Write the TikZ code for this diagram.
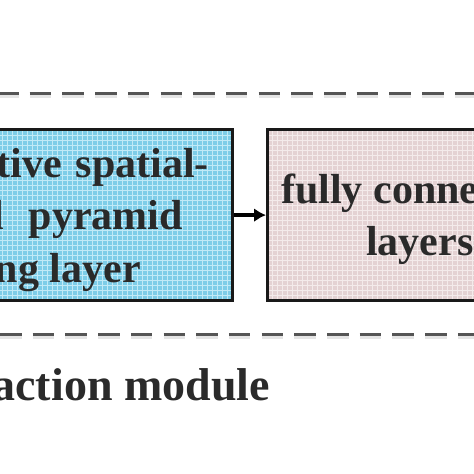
\documentclass[tikz,border=0pt]{standalone}
\usepackage{fontspec}
\setmainfont{Liberation Serif}
\usetikzlibrary{shadows,arrows.meta}
\definecolor{inkgray}{HTML}{2A2A2A}
\definecolor{dashgray}{HTML}{555555}
\definecolor{sppfill}{HTML}{7ECDE8}
\definecolor{sppgrid}{HTML}{C2EAF7}
\definecolor{fcfill}{HTML}{E4D2D3}
\definecolor{fcgrid}{HTML}{F4EBEB}
\tikzset{
  layerbox/.style={draw=black!90, line width=3.2pt, minimum width=#1, minimum height=171pt,
    anchor=north west, inner sep=0pt,
    general shadow={shadow xshift=1.4pt, shadow yshift=-1.6pt, fill=black!50}},
  gridded/.style n args={2}{fill=#1, path picture={
    \draw[#2, line width=1pt]
      ([shift={(-2pt,-2pt)}]path picture bounding box.south west) grid[step=5pt]
      ([shift={(2pt,2pt)}]path picture bounding box.north east);}},
  modline/.style={dashgray, line width=3pt, dash pattern=on 21.5pt off 11.2pt},
  modshade/.style={black!10, line width=3pt, dash pattern=on 21.5pt off 11.2pt},
  boxtext/.style={inkgray, font=\fontsize{42}{48}\selectfont\bfseries, inner sep=0pt},
  captext/.style={inkgray, font=\fontsize{46}{52}\selectfont\bfseries, inner sep=0pt},
  link/.style={black, line width=3.6pt, -{Latex[length=12pt,width=14pt]}}
}
\begin{document}
\begin{tikzpicture}[x=1pt, y=-1pt]
  \useasboundingbox (0,0) rectangle (474,474);
  \clip (0,0) rectangle (474,474);
  \fill[white] (0,0) rectangle (474,474);

  % module boundary (faint offset under each dashed rule)
  \draw[modshade, dash phase=3pt] (0,96) -- (480,96);
  \draw[modshade] (0,337) -- (480,337);
  \draw[modline, dash phase=3pt] (0,93) -- (480,93);
  \draw[modline] (0,334) -- (480,334);

  % pooling layer and fully connected layers
  \node[layerbox=241pt, gridded={sppfill}{sppgrid}] (spp) at (-10,128) {};
  \node[layerbox=230pt, gridded={fcfill}{fcgrid}] (fc) at (266,128) {};

  \node[boxtext, anchor=base east] (spp1) at (209,177) {tive\hskip 14pt spatial-};
  \node[boxtext, anchor=base east] (spp2) at (183,229) {l\hskip 25pt pyramid};
  \node[boxtext, anchor=base east] (spp3) at (141,282) {ng layer};

  \node[boxtext, anchor=base west] (fc1) at (281,203) {fully connected};
  \node[boxtext, anchor=base west] (fc2) at (366,255) {layers};

  \draw[link] (spp.east) -- (fc.west);

  % module caption
  \node[captext, anchor=base east] (cap) at (270,400) {action module};
\end{tikzpicture}
\end{document}
